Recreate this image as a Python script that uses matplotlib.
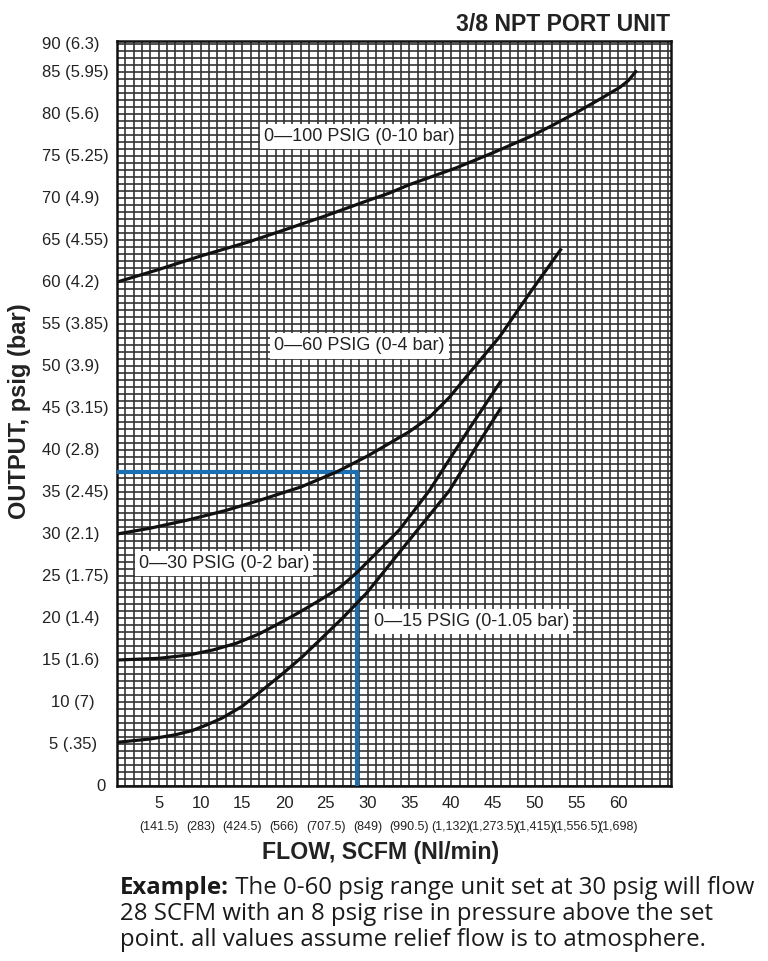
import numpy as np
import matplotlib.pyplot as plt
from matplotlib.ticker import MultipleLocator
import matplotlib.transforms as mtransforms

# curves (flow SCFM, output psig)
flow_100 = [0, 5, 10, 15.8, 20, 25, 30, 32.6, 35, 40.6, 45, 49.4, 52, 55, 58, 60.2, 61.2, 62.2]
psig_100 = [60, 61.5, 63.1, 64.8, 66.2, 67.9, 69.7, 70.6, 71.6, 73.6, 75.4, 77.3, 78.6, 80.2, 81.9, 83.2, 84.0, 85.2]

flow_60 = [0, 4, 8.6, 13, 17, 22, 26.3, 30, 32.6, 35, 37.4, 39.8, 42.2, 45.8, 49.4, 53.2]
psig_60 = [30, 30.7, 31.7, 32.8, 34, 35.6, 37.4, 39.3, 40.8, 42.2, 43.9, 46.3, 49.2, 53.5, 58.7, 64]

flow_30 = [0, 5, 8.6, 11.5, 14.3, 17, 19.1, 21.5, 23.9, 26.5, 28.7, 31, 33.8, 37.4, 41.8, 46]
psig_30 = [15, 15.2, 15.6, 16.2, 17, 18.1, 19.2, 20.5, 21.9, 23.5, 25.4, 27.7, 30.5, 35.2, 42, 48.3]

flow_15 = [0, 4, 7, 9, 10.8, 12.6, 15, 17, 19.5, 22.2, 24.5, 27, 29.9, 35, 39.8, 43, 46]
psig_15 = [5.2, 5.6, 6.1, 6.6, 7.3, 8.1, 9.5, 11.1, 13.1, 15.4, 17.6, 20, 23, 29.3, 35.2, 40.4, 45.1]

# example read: 0-60 unit, flow and pressure
ex_flow = 28.7
ex_psig = 37.4

x_ticks = [5, 10, 15, 20, 25, 30, 35, 40, 45, 50, 55, 60]
x_nl = ['(141.5)', '(283)', '(424.5)', '(566)', '(707.5)', '(849)', '(990.5)',
        '(1,132)', '(1,273.5)', '(1,415)', '(1,556.5)', '(1,698)']
y_ticks = [0, 5, 10, 15, 20, 25, 30, 35, 40, 45, 50, 55, 60, 65, 70, 75, 80, 85, 88.3]
y_labels = ['0', '5 (.35)', '10 (7)', '15 (1.6)', '20 (1.4)', '25 (1.75)', '30 (2.1)',
            '35 (2.45)', '40 (2.8)', '45 (3.15)', '50 (3.9)', '55 (3.85)', '60 (4.2)',
            '65 (4.55)', '70 (4.9)', '75 (5.25)', '80 (5.6)', '85 (5.95)', '90 (6.3)']

plt.rcParams['font.family'] = ['Liberation Sans', 'DejaVu Sans']
txt = '#222222'

fig = plt.figure(figsize=(7.68, 9.61), dpi=100)
ax = fig.add_axes([0.1523, 0.1821, 0.7214, 0.7752])
ax.set_xlim(0, 66.3)
ax.set_ylim(0, 88.7)

# dense graph-paper grid
ax.xaxis.set_major_locator(MultipleLocator(5))
ax.xaxis.set_minor_locator(MultipleLocator(1))
ax.yaxis.set_minor_locator(MultipleLocator(5 / 6))
ax.set_yticks([])
ax.grid(which='both', color='#333333', lw=1.2)
ax.set_axisbelow(True)
for s in ax.spines.values():
    s.set_linewidth(1.8)
    s.set_color('#111111')

ax.set_xticks(x_ticks)
ax.set_xticklabels([str(v) for v in x_ticks], fontsize=12, color=txt)
ax.tick_params(which='both', length=0)
ax.tick_params(axis='x', pad=7)

trans_x = mtransforms.blended_transform_factory(ax.transData, ax.transAxes)
for v, lab in zip(x_ticks, x_nl):
    ax.text(v, -0.055, lab, transform=trans_x, ha='center', va='center',
            fontsize=9, color=txt)

trans_y = mtransforms.blended_transform_factory(ax.transAxes, ax.transData)
for v, lab in zip(y_ticks, y_labels):
    if lab == '0':
        ax.text(-0.02, v, lab, transform=trans_y, ha='right', va='center',
                fontsize=12, color=txt)
    elif len(lab) <= 7:
        ax.text(-0.079, v, lab, transform=trans_y, ha='center', va='center',
                fontsize=12, color=txt)
    else:
        ax.text(-0.135, v, lab, transform=trans_y, ha='left', va='center',
                fontsize=12, color=txt)

# example lines
ax.plot([0, ex_flow, ex_flow], [ex_psig, ex_psig, 0], color='#1b6fb3', lw=3,
        zorder=3, solid_joinstyle='miter')

for fx, py in [(flow_100, psig_100), (flow_60, psig_60), (flow_30, psig_30), (flow_15, psig_15)]:
    ax.plot(fx, py, color='#111111', lw=2.3, zorder=4, solid_capstyle='butt')

box = dict(facecolor='white', edgecolor='none', pad=3)
ax.text(17.6, 77.3, '0\u2014100 PSIG (0-10 bar)', fontsize=13, color=txt, va='center', bbox=box, zorder=5)
ax.text(18.8, 52.4, '0\u201460 PSIG (0-4 bar)', fontsize=13, color=txt, va='center', bbox=box, zorder=5)
ax.text(2.6, 26.5, '0\u201430 PSIG (0-2 bar)', fontsize=13, color=txt, va='center', bbox=box, zorder=5)
ax.text(30.7, 19.6, '0\u201415 PSIG (0-1.05 bar)', fontsize=13, color=txt, va='center', bbox=box, zorder=5)

fig.text(0.873, 0.974, '3/8 NPT PORT UNIT', ha='right', va='center', fontsize=16.6,
         fontweight='bold', color=txt)
fig.text(0.496, 0.1134, 'FLOW, SCFM (Nl/min)', ha='center', va='center', fontsize=16.7,
         fontweight='bold', color=txt)
fig.text(0.025, 0.572, 'OUTPUT, psig (bar)', ha='center', va='center', rotation=90,
         fontsize=17, fontweight='bold', color=txt)

# note under the chart
note_font = ['Open Sans', 'DejaVu Sans']
note_col = '#1a1a1a'
note_size = 17.3
t1 = fig.text(0.156, 1 - 894 / 961, 'Example:', ha='left', va='baseline', fontsize=note_size,
              fontweight='bold', family=note_font, color=note_col)
fig.canvas.draw()
ext = t1.get_window_extent()
x_after = ext.x1 / fig.bbox.width
fig.text(x_after, 1 - 894 / 961, ' The 0-60 psig range unit set at 30 psig will flow',
         ha='left', va='baseline', fontsize=note_size, family=note_font, color=note_col)
fig.text(0.156, 1 - 920 / 961, '28 SCFM with an 8 psig rise in pressure above the set',
         ha='left', va='baseline', fontsize=note_size, family=note_font, color=note_col)
fig.text(0.156, 1 - 946 / 961, 'point. all values assume relief flow is to atmosphere.',
         ha='left', va='baseline', fontsize=note_size, family=note_font, color=note_col)

fig.savefig('out.png', dpi=100)
